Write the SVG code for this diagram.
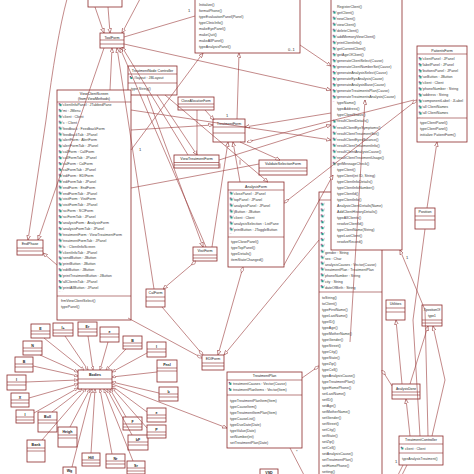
<svg xmlns="http://www.w3.org/2000/svg" xmlns:xlink="http://www.w3.org/1999/xlink" width="474" height="474" viewBox="0 0 474 474">
<defs>
<style>
.bx{fill:#fff;stroke:#8c2a2a;stroke-width:.8}
.sp{fill:none;stroke:#8c2a2a;stroke-width:.6}
.ln{fill:none;stroke:#9a3a3a;stroke-width:.6}
.t{font-family:"Liberation Sans",Arial,sans-serif;font-size:3.6px;fill:#3a3a3a}
.h{font-family:"Liberation Sans",Arial,sans-serif;font-size:3.6px;fill:#222;text-anchor:middle}
.hb{font-family:"Liberation Sans",Arial,sans-serif;font-size:3.6px;font-weight:bold;fill:#222;text-anchor:middle}
.lb{font-family:"Liberation Sans",Arial,sans-serif;font-size:4px;fill:#333}
</style>
<marker id="tri" viewBox="0 0 10 10" refX="10" refY="5" markerWidth="4.5" markerHeight="4.5" markerUnits="userSpaceOnUse" orient="auto-start-reverse"><path d="M0,1 L10,5 L0,9 Z" fill="#fff" stroke="#8c2a2a" stroke-width="1.2"/></marker>
<marker id="tris" viewBox="0 0 10 10" refX="10" refY="5" markerWidth="3.6" markerHeight="3.6" markerUnits="userSpaceOnUse" orient="auto-start-reverse"><path d="M0,1 L10,5 L0,9 Z" fill="#fff" stroke="#8c2a2a" stroke-width="1.2"/></marker>
<marker id="dia" viewBox="0 0 14 8" refX="14" refY="4" markerWidth="6" markerHeight="3.5" markerUnits="userSpaceOnUse" orient="auto-start-reverse"><path d="M0,4 L7,0.5 L14,4 L7,7.5 Z" fill="#fff" stroke="#8c2a2a" stroke-width="1"/></marker>
<pattern id="icC" x="332.5" y="4.5" width="4" height="6.05" patternUnits="userSpaceOnUse"><rect width="1.6" height="1.6" fill="#b03a7a"/><rect x=".9" y=".9" width="2.2" height="2.2" fill="#2a9a8c"/></pattern>
<pattern id="icV" x="58.5" y="103" width="4" height="5.9" patternUnits="userSpaceOnUse"><rect width="1.6" height="1.6" fill="#b03a7a"/><rect x=".9" y=".9" width="2.2" height="2.2" fill="#2a9a8c"/></pattern>
<pattern id="icM" x="320.5" y="202.5" width="4" height="5.9" patternUnits="userSpaceOnUse"><rect width="1.6" height="1.6" fill="#b03a7a"/><rect x=".9" y=".9" width="2.2" height="2.2" fill="#2a9a8c"/></pattern>
<pattern id="icP" x="418.5" y="57" width="4" height="6.05" patternUnits="userSpaceOnUse"><rect width="1.6" height="1.6" fill="#b03a7a"/><rect x=".9" y=".9" width="2.2" height="2.2" fill="#2a9a8c"/></pattern>
<pattern id="icA" x="229.5" y="191.5" width="4" height="6" patternUnits="userSpaceOnUse"><rect width="1.6" height="1.6" fill="#b03a7a"/><rect x=".9" y=".9" width="2.2" height="2.2" fill="#2a9a8c"/></pattern>
<symbol id="ic" viewBox="0 0 3.2 3.2" width="3.2" height="3.2"><rect width="1.6" height="1.6" fill="#b03a7a"/><rect x=".9" y=".9" width="2.2" height="2.2" fill="#2a9a8c"/></symbol>
</defs>
<rect width="474" height="474" fill="#fff"/>

<g id="nodes">
<g id="topbox"><rect class="bx" x="88" y="-2" width="34" height="9"/></g>

<g id="toolform"><rect class="bx" x="100" y="33" width="24" height="15"/><text class="h" x="112" y="38.6">ToolForm</text><path class="sp" d="M100,40h24M100,44h24"/></g>

<g id="topcenter"><rect class="bx" x="195" y="-2" width="105" height="55"/>
<text class="t" x="199" y="6"><tspan x="199">Initialize()</tspan><tspan x="199" dy="6">formatPhone()</tspan><tspan x="199" dy="6">typeEvaluationPanel(Panel)</tspan><tspan x="199" dy="6">typeClinicInfo()</tspan><tspan x="199" dy="6">makeEyePanel()</tspan><tspan x="199" dy="6">makeQuit()</tspan><tspan x="199" dy="6">makeAllPanel()</tspan><tspan x="199" dy="6">typeAnalysisPanel()</tspan></text></g>

<g id="viewerctrl"><rect class="bx" x="128" y="66" width="49" height="29"/><text class="h" x="152.5" y="71.5">TreatmentNode Controller</text><path class="sp" d="M128,74h49M128,83h49"/><use href="#ic" x="129.5" y="76"/><text class="t" x="134" y="79">#layout : JBLayout</text><text class="t" x="131" y="89.5">type String()</text></g>

<g id="viewclient"><rect class="bx" x="57" y="90" width="74" height="230"/><text class="h" x="94" y="95">ViewClientScreen</text><text class="h" x="94" y="100">(from ViewMethods)</text><path class="sp" d="M57,102h74M57,296h74"/>
<rect x="58.5" y="103" width="4" height="188.8" fill="url(#icV)"/>
<text class="t" x="63" y="106"><tspan x="63">clientInfoPanel : JTabbedPane</tspan><tspan x="63" dy="5.9">mi : JMenu</tspan><tspan x="63" dy="5.9">client : Client</tspan><tspan x="63" dy="5.9">c : Client</tspan><tspan x="63" dy="5.9">feedback : FeedbackForm</tspan><tspan x="63" dy="5.9">feedbackTab : JPanel</tspan><tspan x="63" dy="5.9">alertForm : AlertForm</tspan><tspan x="63" dy="5.9">alertFormTab : JPanel</tspan><tspan x="63" dy="5.9">callForm : CallForm</tspan><tspan x="63" dy="5.9">callFormTab : JPanel</tspan><tspan x="63" dy="5.9">calForm : CalForm</tspan><tspan x="63" dy="5.9">calFormTab : JPanel</tspan><tspan x="63" dy="5.9">ediForm : EDIForm</tspan><tspan x="63" dy="5.9">ediFormTab : JPanel</tspan><tspan x="63" dy="5.9">endForm : EndForm</tspan><tspan x="63" dy="5.9">endFormTab : JPanel</tspan><tspan x="63" dy="5.9">visitForm : VisitForm</tspan><tspan x="63" dy="5.9">visitFormTab : JPanel</tspan><tspan x="63" dy="5.9">sciForm : SCIForm</tspan><tspan x="63" dy="5.9">sciFormTab : JPanel</tspan><tspan x="63" dy="5.9">analysisForm : AnalysisForm</tspan><tspan x="63" dy="5.9">analysisFormTab : JPanel</tspan><tspan x="63" dy="5.9">treatmentForm : ViewTreatmentForm</tspan><tspan x="63" dy="5.9">treatmentFormTab : JPanel</tspan><tspan x="63" dy="5.9">tc : ClientInfoScreen</tspan><tspan x="63" dy="5.9">clientInfoTab : JPanel</tspan><tspan x="63" dy="5.9">sendButton : JButton</tspan><tspan x="63" dy="5.9">printButton : JButton</tspan><tspan x="63" dy="5.9">editButton : JButton</tspan><tspan x="63" dy="5.9">printTreatmentButton : JButton</tspan><tspan x="63" dy="5.9">allClientsTab : JPanel</tspan><tspan x="63" dy="5.9">printAllButton : JPanel</tspan></text>
<text class="t" x="61" y="302"><tspan x="61">frmViewClientSelect()</tspan><tspan x="61" dy="6">typePanel()</tspan></text></g>

<g id="endphase"><rect class="bx" x="17" y="240" width="26" height="15"/><text class="h" x="30" y="245.3">EndPhase</text><path class="sp" d="M17,248h26M17,251h26"/></g>

<g id="calform"><rect class="bx" x="146" y="289" width="19" height="18"/><text class="h" x="155.5" y="294.3">CalForm</text><path class="sp" d="M146,297h19M146,301h19"/></g>

<g id="closeform"><rect class="bx" x="178" y="97" width="36" height="13"/><text class="h" x="196" y="101.8" style="font-size:3.2px">CloseAllocationForm</text><path class="sp" d="M178,104h36M178,107h36"/></g>

<g id="treatmentform"><rect class="bx" x="213" y="119" width="32" height="23"/><text class="h" x="229" y="124.5">TreatmentForm</text><path class="sp" d="M213,127h32M213,133h32"/></g>

<g id="viewtreatmentform"><rect class="bx" x="174" y="155" width="45" height="13"/><text class="h" x="196.5" y="160">ViewTreatmentForm</text><path class="sp" d="M174,162.5h45M174,165h45"/></g>

<g id="validateselection"><rect class="bx" x="259" y="160" width="48" height="15"/><text class="h" x="283" y="165">ValidateSelectionForm</text><path class="sp" d="M259,168h48M259,171h48"/></g>

<g id="analysisform"><rect class="bx" x="228" y="182" width="56" height="85"/><text class="h" x="256" y="187.5">AnalysisForm</text><path class="sp" d="M228,190h56M228,237h56"/>
<rect x="229.5" y="191.5" width="4" height="42" fill="url(#icA)"/>
<text class="t" x="234" y="194.5"><tspan x="234">closePanel : JPanel</tspan><tspan x="234" dy="6">topPanel : JPanel</tspan><tspan x="234" dy="6">analysisPanel : JPanel</tspan><tspan x="234" dy="6">jButton : JButton</tspan><tspan x="234" dy="6">client : Client</tspan><tspan x="234" dy="6">analysisSelection : ListPane</tspan><tspan x="234" dy="6">printButton : JToggleButton</tspan></text>
<text class="t" x="231" y="243"><tspan x="231">typeClosePanel()</tspan><tspan x="231" dy="6">typeTopPanel()</tspan><tspan x="231" dy="6">typeDetails()</tspan><tspan x="231" dy="6">itemStateChanged()</tspan></text></g>

<g id="visitform"><rect class="bx" x="193" y="247" width="24" height="14"/><text class="h" x="205" y="252.3">VisitForm</text><path class="sp" d="M193,255h24M193,258h24"/></g>

<g id="ediform"><rect class="bx" x="202" y="355" width="22" height="15"/><text class="h" x="213" y="360.3">EDIForm</text><path class="sp" d="M202,363h22M202,366h22"/></g>

<g id="treatmentplan"><rect class="bx" x="227" y="372" width="75" height="76"/><text class="h" x="264.5" y="377.3">TreatmentPlan</text><path class="sp" d="M227,380h75M227,395h75"/>
<use href="#ic" x="228.5" y="381.8"/><use href="#ic" x="228.5" y="387.8"/>
<text class="t" x="233" y="384.8"><tspan x="233">treatmentCauses : Vector(Cause)</tspan><tspan x="233" dy="6">treatmentPlanItems : Vector(Item)</tspan></text>
<text class="t" x="230" y="401.5"><tspan x="230">typeTreatmentPlanItem(Item)</tspan><tspan x="230" dy="6.05">typeCauseItem()</tspan><tspan x="230" dy="6.05">typeTreatmentItemPlan(Item)</tspan><tspan x="230" dy="6.05">typeCauseList()</tspan><tspan x="230" dy="6.05">typeDueDate(Date)</tspan><tspan x="230" dy="6.05">typeValue(Date)</tspan><tspan x="230" dy="6.05">setNumber(int)</tspan><tspan x="230" dy="6.05">setTreatmentPlan(Date)</tspan></text></g>

<g id="client"><rect class="bx" x="319" y="192" width="63" height="290"/><path class="sp" d="M319,200h63M319,292h63"/>
<rect x="320.5" y="202.5" width="4" height="88.5" fill="url(#icM)"/>
<text class="t" x="325" y="253.7"><tspan x="325">gender : String</tspan><tspan x="325" dy="5.9">sex : Char</tspan><tspan x="325" dy="5.9">analysisCauses : Vector(Cause)</tspan><tspan x="325" dy="5.9">treatmentPlan : TreatmentPlan</tspan><tspan x="325" dy="5.9">phoneNumber : String</tspan><tspan x="325" dy="5.9">city : String</tspan><tspan x="325" dy="5.9">dateOfBirth : String</tspan></text>
<text class="t" x="322" y="299"><tspan x="322">toString()</tspan><tspan x="322" dy="6">toClient()</tspan><tspan x="322" dy="6">typeFirstName()</tspan><tspan x="322" dy="6">typeLastName()</tspan><tspan x="322" dy="6">typeID()</tspan><tspan x="322" dy="6">typeAge()</tspan><tspan x="322" dy="6">typeMotherName()</tspan><tspan x="322" dy="6">typeGender()</tspan><tspan x="322" dy="6">typeStreet()</tspan><tspan x="322" dy="6">typeCity()</tspan><tspan x="322" dy="6">typeState()</tspan><tspan x="322" dy="6">typeZip()</tspan><tspan x="322" dy="6">typeCell()</tspan><tspan x="322" dy="6">typeAnalysisCause()</tspan><tspan x="322" dy="6">typeTreatmentPlan()</tspan><tspan x="322" dy="6">typeHomePhone()</tspan><tspan x="322" dy="6">setLastName()</tspan><tspan x="322" dy="6">setID()</tspan><tspan x="322" dy="6">setAge()</tspan><tspan x="322" dy="6">setMotherName()</tspan><tspan x="322" dy="6">setGender()</tspan><tspan x="322" dy="6">setStreet()</tspan><tspan x="322" dy="6">setCity()</tspan><tspan x="322" dy="6">setState()</tspan><tspan x="322" dy="6">setZip()</tspan><tspan x="322" dy="6">setCell()</tspan><tspan x="322" dy="6">setAnalysisCause()</tspan><tspan x="322" dy="6">setTreatmentPlan()</tspan><tspan x="322" dy="6">setHomePhone()</tspan><tspan x="322" dy="6">setting()</tspan></text></g>

<g id="clientcontrol"><rect class="bx" x="331" y="-2" width="71" height="252"/>
<rect x="332.5" y="10.55" width="4" height="90.75" fill="url(#icC)"/>
<rect x="332.5" y="119.45" width="4" height="48.4" fill="url(#icC)"/>
<text class="t" x="337" y="7.5"><tspan x="337">RegisterClient()</tspan><tspan x="337" dy="6.05">getClient()</tspan><tspan x="337" dy="6.05">newClient()</tspan><tspan x="337" dy="6.05">viewClient()</tspan><tspan x="337" dy="6.05">deleteClient()</tspan><tspan x="337" dy="6.05">addMemoryViewClient()</tspan><tspan x="337" dy="6.05">printClientInfo()</tspan><tspan x="337" dy="6.05">getCurrentClient()</tspan><tspan x="337" dy="6.05">getAgeOfClient()</tspan><tspan x="337" dy="6.05">generateClientSelect(Cause)</tspan><tspan x="337" dy="6.05">generateClientNumberSet(Cause)</tspan><tspan x="337" dy="6.05">generateAnalysisSelect(Cause)</tspan><tspan x="337" dy="6.05">generateEyeAnalysis(Cause)</tspan><tspan x="337" dy="6.05">generateAnalysisBase(Cause)</tspan><tspan x="337" dy="6.05">generateTreatmentsPlan(Cause)</tspan><tspan x="337" dy="6.05">generateTreatmentsAnalysis(Cause)</tspan><tspan x="337" dy="6.05">typeName()</tspan><tspan x="337" dy="6.05">typeAddress()</tspan><tspan x="337" dy="6.05">typeClientStatus()</tspan><tspan x="337" dy="6.05">resultClientDetails()</tspan><tspan x="337" dy="6.05">resultClientEyeSymptoms()</tspan><tspan x="337" dy="6.05">resultClientTreatmentSet()</tspan><tspan x="337" dy="6.05">resultClientEyesBalance()</tspan><tspan x="337" dy="6.05">resultClientTreatmentInfo()</tspan><tspan x="337" dy="6.05">resultClientAnalysisCause()</tspan><tspan x="337" dy="6.05">resultClientTreatmentUsage()</tspan><tspan x="337" dy="6.05">getMessageCheck()</tspan><tspan x="337" dy="6.05">typeClient()</tspan><tspan x="337" dy="6.05">typeClient(int ID, String)</tspan><tspan x="337" dy="6.05">typeClientInfoDetails()</tspan><tspan x="337" dy="6.05">typeClientInfoNumber()</tspan><tspan x="337" dy="6.05">typeClientId()</tspan><tspan x="337" dy="6.05">typeClientInfo()</tspan><tspan x="337" dy="6.05">AnalysisClientDetails(Name)</tspan><tspan x="337" dy="6.05">AddClientHistoryDetails()</tspan><tspan x="337" dy="6.05">typeAllClients()</tspan><tspan x="337" dy="6.05">resolveClientId()</tspan><tspan x="337" dy="6.05">typeClientName(String)</tspan><tspan x="337" dy="6.05">typeLastClient()</tspan><tspan x="337" dy="6.05">resolveRecord()</tspan></text></g>

<g id="patientsform"><rect class="bx" x="417" y="46" width="50" height="96"/><text class="h" x="442" y="51.5">PatientsForm</text><path class="sp" d="M417,54h50M417,118h50"/>
<rect x="418.5" y="57" width="4" height="60.5" fill="url(#icP)"/>
<text class="t" x="423" y="60"><tspan x="423">clientPanel : JPanel</tspan><tspan x="423" dy="6.05">labelPanel : JPanel</tspan><tspan x="423" dy="6.05">buttonsPanel : JPanel</tspan><tspan x="423" dy="6.05">ueButton : JButton</tspan><tspan x="423" dy="6.05">client : Client</tspan><tspan x="423" dy="6.05">phoneNumber : String</tspan><tspan x="423" dy="6.05">address : String</tspan><tspan x="423" dy="6.05">componentLabel : JLabel</tspan><tspan x="423" dy="6.05">all ClientNames</tspan><tspan x="423" dy="6.05">all ClientNames</tspan></text>
<text class="t" x="420" y="124"><tspan x="420">typeClientPanel()</tspan><tspan x="420" dy="6">typeClientPanel()</tspan><tspan x="420" dy="6">initialize PatientForm()</tspan></text></g>

<g id="position"><rect class="bx" x="415" y="208" width="20" height="21"/><text class="h" x="425" y="213.3">Position</text><path class="sp" d="M415,216h20M415,220h20"/></g>
<g id="utilities"><rect class="bx" x="386" y="300" width="19" height="20"/><text class="h" x="395.5" y="305.3">Utilities</text><path class="sp" d="M386,308h19M386,312h19"/></g>
<g id="xposition"><rect class="bx" x="422" y="305" width="20" height="21"/><text class="h" x="432" y="310.5" style="font-size:3.2px">XpositionOf</text><text class="h" x="432" y="316.5" style="font-size:3.2px">type1</text><path class="sp" d="M422,320h20M422,323h20"/></g>
<g id="analysisdone"><rect class="bx" x="392" y="384" width="28" height="15"/><text class="h" x="406" y="389.5" style="font-size:3.3px">AnalysisDone</text><path class="sp" d="M392,392h28M392,395h28"/></g>
<g id="treatmentcontroller"><rect class="bx" x="399" y="436" width="44" height="29"/><text class="h" x="421" y="441.3">TreatmentController</text><path class="sp" d="M399,444h44M399,453h44"/><use href="#ic" x="400.5" y="446.5"/><text class="t" x="405" y="449.5">client : Client</text><text class="t" x="402" y="459.5" style="font-size:3.3px">typeAnalysisTreatment()</text></g>

<g id="bodies"><rect class="bx" x="78" y="370" width="34" height="19"/><text class="hb" x="95" y="376">Bodies</text><path class="sp" d="M78,379h34M78,383h34"/></g>
<g id="b1"><rect class="bx" x="31" y="324" width="19" height="14"/><text class="hb" x="40.5" y="329.5">E</text><path class="sp" d="M31,331h19M31,334h19"/></g>
<g id="b2"><rect class="bx" x="53" y="323" width="20" height="13"/><text class="hb" x="63" y="328.5">I+</text><path class="sp" d="M53,330h20M53,333h20"/></g>
<g id="b3"><rect class="bx" x="78" y="322" width="19" height="14"/><text class="hb" x="87.5" y="327.5">Er</text><path class="sp" d="M78,329h19M78,332h19"/></g>
<g id="b4"><rect class="bx" x="100" y="327" width="19" height="15"/><text class="hb" x="109.5" y="332.5">e</text><path class="sp" d="M100,334h19M100,337h19"/></g>
<g id="b5"><rect class="bx" x="123" y="336" width="19" height="13"/><text class="hb" x="132.5" y="341.5">B</text><path class="sp" d="M123,343h19M123,346h19"/></g>
<g id="b6"><rect class="bx" x="147" y="342" width="19" height="15"/><text class="hb" x="156.5" y="347.5">I</text><path class="sp" d="M147,349h19M147,352h19"/></g>
<g id="b7"><rect class="bx" x="23" y="341" width="19" height="14"/><text class="hb" x="32.5" y="346.5">N</text><path class="sp" d="M23,348h19M23,351h19"/></g>
<g id="b8"><rect class="bx" x="15" y="357" width="18" height="15"/><text class="hb" x="24" y="362.5">B</text><path class="sp" d="M15,364h18M15,367h18"/></g>
<g id="b9"><rect class="bx" x="7" y="375" width="19" height="15"/><text class="hb" x="16.5" y="380.5">I</text><path class="sp" d="M7,382h19M7,385h19"/></g>
<g id="b10"><rect class="bx" x="11" y="393" width="18" height="14"/><text class="hb" x="20" y="398.5">X</text><path class="sp" d="M11,400h18M11,403h18"/></g>
<g id="b11"><rect class="bx" x="16" y="410" width="18" height="13"/><text class="hb" x="25" y="415.5">I</text><path class="sp" d="M16,417h18M16,420h18"/></g>
<g id="b12"><rect class="bx" x="38" y="412" width="19" height="20"/><text class="hb" x="47.5" y="417.5">Bull</text><path class="sp" d="M38,420h19M38,423h19"/></g>
<g id="b13"><rect class="bx" x="27" y="440" width="18" height="22"/><text class="hb" x="36" y="445.5">Bank</text><path class="sp" d="M27,448h18M27,451h18"/></g>
<g id="b14"><rect class="bx" x="58" y="427" width="19" height="20"/><text class="hb" x="67.5" y="432.5">Heigh</text><path class="sp" d="M58,435h19M58,438h19"/></g>
<g id="b15"><rect class="bx" x="82" y="453" width="18" height="13"/><text class="hb" x="91" y="458.5">Hill</text><path class="sp" d="M82,460h18M82,463h18"/></g>
<g id="b16"><rect class="bx" x="63" y="467" width="13" height="10"/><text class="hb" x="69.5" y="472">Wg</text></g>
<g id="b17"><rect class="bx" x="106" y="454" width="19" height="14"/><text class="hb" x="115.5" y="459.5">Nr</text><path class="sp" d="M106,461h19M106,464h19"/></g>
<g id="b18"><rect class="bx" x="127" y="461" width="18" height="13"/><text class="hb" x="136" y="466.5">Sr</text><path class="sp" d="M127,468h18M127,471h18"/></g>
<g id="b19"><rect class="bx" x="128" y="435" width="20" height="15"/><text class="hb" x="138" y="440.5">bF</text><path class="sp" d="M128,442h20M128,445h20"/></g>
<g id="b20"><rect class="bx" x="123" y="417" width="19" height="13"/><text class="hb" x="132.5" y="422.5">F</text><path class="sp" d="M123,424h19M123,427h19"/></g>
<g id="b21"><rect class="bx" x="147" y="408" width="19" height="14"/><text class="hb" x="156.5" y="413.5">e</text><path class="sp" d="M147,415h19M147,418h19"/></g>
<g id="b22"><rect class="bx" x="147" y="425" width="19" height="13"/><text class="hb" x="156.5" y="430.5">P</text><path class="sp" d="M147,432h19M147,435h19"/></g>
<g id="b23"><rect class="bx" x="157" y="360" width="20" height="22"/><text class="hb" x="167" y="365.5">Pnsl</text><path class="sp" d="M157,368h20M157,371h20"/></g>
<g id="b24"><rect class="bx" x="159" y="387" width="19" height="14"/><text class="hb" x="168.5" y="392.5">b</text><path class="sp" d="M159,394h19M159,397h19"/></g>
<g id="vsd"><rect class="bx" x="260" y="469" width="18" height="8"/><text class="hb" x="269" y="473.5">VSD</text></g>
</g>

<g id="connectors">
<path class="ln" marker-end="url(#tri)" d="M95,7 L104,33"/>
<path class="ln" marker-end="url(#tri)" d="M108,7 L110,33"/>
<path class="ln" marker-end="url(#tri)" d="M140,-1 L122,33"/>
<path class="ln" marker-end="url(#tri)" d="M67,-1 Q56,40 46,120 L28,240"/>
<path class="ln" marker-end="url(#tri)" d="M104,48 L38,240"/>
<path class="ln" d="M124,37 L195,16"/>
<path class="ln" marker-end="url(#tri)" d="M124,44 L331,90"/>
<path class="ln" marker-start="url(#tri)" d="M117,48 L154,289"/>
<path class="ln" marker-start="url(#tri)" d="M120,48 L206,247"/>
<path class="ln" marker-start="url(#tri)" d="M122,47 L188,155"/>
<path class="ln" marker-start="url(#tri)" d="M112,48 L110,90"/>
<path class="ln" marker-start="url(#tri)" d="M203,53 L131,150"/>
<path class="ln" marker-end="url(#tri)" d="M237,119 L239,53"/>
<path class="ln" marker-end="url(#tri)" d="M300,45 L331,66"/>
<path class="ln" marker-start="url(#tri)" d="M245,127 L331,113"/>
<path class="ln" marker-start="url(#dia)" d="M247,142 L414,100"/>
<path class="ln" marker-start="url(#dia)" marker-end="url(#dia)" d="M284,203 L417,100"/>
<path class="ln" marker-start="url(#tri)" d="M437,142 L427,208"/>
<path class="ln" d="M425,229 L413,320 L420,436"/>
<path class="ln" marker-start="url(#tri)" d="M400,250 L425,310 L428,436"/>
<path class="ln" marker-start="url(#tri)" d="M433,326 L445,380 L432,436"/>
<path class="ln" marker-start="url(#tri)" d="M428,326 L410,384"/>
<path class="ln" marker-start="url(#tri)" d="M396,320 L402,384"/>
<path class="ln" marker-start="url(#dia)" d="M382,370 L392,386"/>
<path class="ln" marker-start="url(#tri)" d="M406,399 L410,436"/>
<path class="ln" d="M403,465 L398,475M407,465 L402,475"/>
<path class="ln" marker-end="url(#dia)" d="M302,378 L319,366"/>
<path class="ln" d="M290,448 L304,475"/>
<path class="ln" marker-end="url(#tri)" d="M112,384 L227,428"/>
<path class="ln" marker-end="url(#tri)" d="M350,342 L365,100"/>
<path class="ln" marker-end="url(#dia)" d="M128,318 L202,358"/>
<path class="ln" marker-end="url(#dia)" d="M162,307 L203,355"/>
<path class="ln" marker-start="url(#dia)" marker-end="url(#tri)" d="M196,261 L163,289"/>
<path class="ln" marker-start="url(#dia)" marker-end="url(#tri)" d="M243,267 L218,355"/>
<path class="ln" marker-start="url(#tri)" d="M224,355 L319,240"/>
<path class="ln" d="M131,188 L259,164"/>
<path class="ln" d="M220,163.5v5M240,159.7v5"/>
<path class="ln" d="M197,110 L197,155"/>
<path class="ln" marker-end="url(#tri)" d="M205,110 L214,120"/>
<path class="ln" marker-end="url(#tri)" d="M131,130 L213,125"/>
<path class="ln" marker-end="url(#tri)" d="M157,95 L197,155"/>
<path class="ln" marker-end="url(#tri)" d="M165,95 L268,182"/>
<path class="ln" marker-end="url(#tri)" d="M240,182 L233,142"/>
<path class="ln" marker-end="url(#tri)" d="M212,247 L228,142"/>
<path class="ln" marker-end="url(#tri)" d="M147,95 L203,247"/>
<path class="ln" marker-end="url(#tri)" d="M240,142 L280,160"/>
<path class="ln" marker-end="url(#tri)" d="M219,160 L331,125"/>
<path class="ln" marker-end="url(#tri)" d="M284,265 L333,175"/>
<path class="ln" marker-end="url(#tri)" d="M131,110 L331,140"/>
<path class="ln" marker-end="url(#tri)" d="M57,265 L43,253"/>
<path class="ln" marker-end="url(#tris)" d="M44,338 L84,370"/>
<path class="ln" marker-end="url(#tris)" d="M65,336 L88,370"/>
<path class="ln" marker-end="url(#tris)" d="M88,336 L93,370"/>
<path class="ln" marker-end="url(#tris)" d="M108,342 L100,370"/>
<path class="ln" marker-end="url(#tris)" d="M126,349 L106,370"/>
<path class="ln" marker-end="url(#tris)" d="M147,353 L112,372"/>
<path class="ln" marker-end="url(#tris)" d="M40,355 L78,372"/>
<path class="ln" marker-end="url(#tris)" d="M33,366 L78,376"/>
<path class="ln" marker-end="url(#tris)" d="M26,382 L78,380"/>
<path class="ln" marker-end="url(#tris)" d="M29,398 L78,384"/>
<path class="ln" marker-end="url(#tris)" d="M34,413 L78,388"/>
<path class="ln" marker-end="url(#tris)" d="M52,412 L82,389"/>
<path class="ln" marker-end="url(#tris)" d="M42,440 L86,389"/>
<path class="ln" marker-end="url(#tris)" d="M70,427 L90,389"/>
<path class="ln" marker-end="url(#tris)" d="M91,453 L95,389"/>
<path class="ln" marker-end="url(#tris)" d="M72,467 L92,389"/>
<path class="ln" marker-end="url(#tris)" d="M112,454 L100,389"/>
<path class="ln" marker-end="url(#tris)" d="M133,461 L104,389"/>
<path class="ln" marker-end="url(#tris)" d="M132,435 L107,389"/>
<path class="ln" marker-end="url(#tris)" d="M126,417 L110,389"/>
<path class="ln" marker-end="url(#tris)" d="M147,412 L112,386"/>
<path class="ln" marker-end="url(#tris)" d="M147,428 L112,388"/>
<path class="ln" marker-end="url(#tris)" d="M157,372 L112,377"/>
<path class="ln" marker-end="url(#tris)" d="M159,393 L112,382"/>
<text class="lb" x="188" y="12">1</text>
<text class="lb" x="226" y="117">1</text>
<text class="lb" x="288" y="51">0..1</text>
<text class="lb" x="139" y="151">1</text>
<text class="lb" x="406" y="259">1</text>
<text class="lb" x="395" y="463">1</text>
<text class="lb" x="296" y="453">*</text>
</g>
</svg>
